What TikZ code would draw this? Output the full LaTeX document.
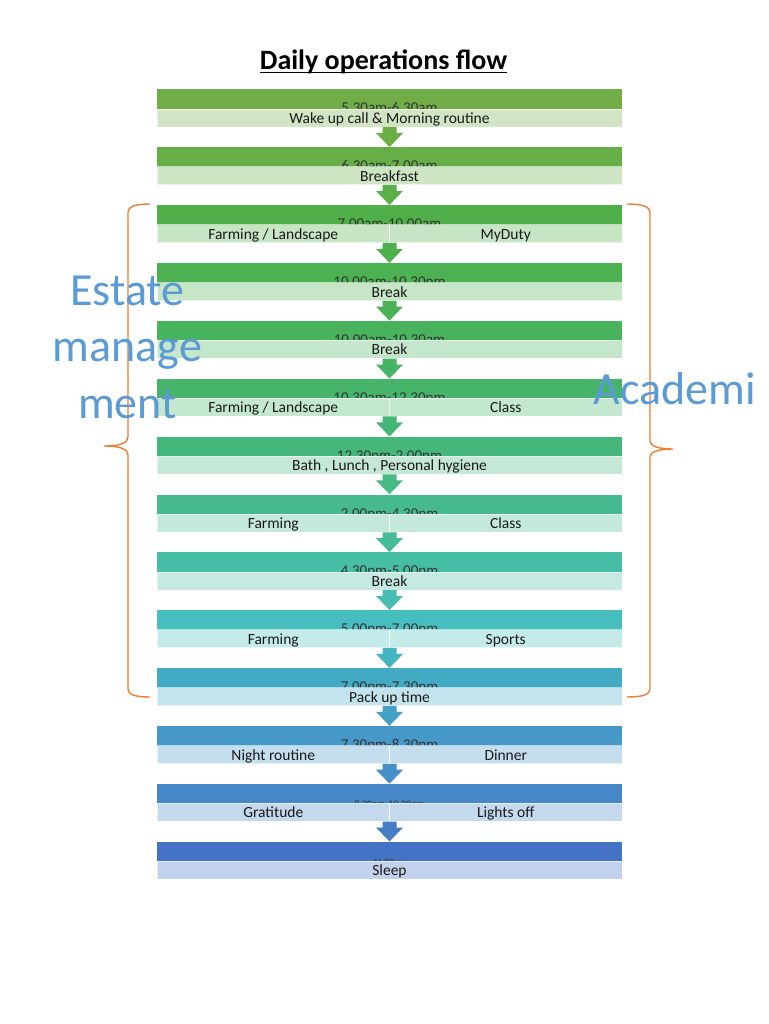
\documentclass[tikz,border=0pt]{standalone}
\usepackage{fontspec}
\setmainfont{Carlito}
\usetikzlibrary{calc}
\definecolor{c1}{RGB}{112,173,71}
\definecolor{c2}{RGB}{102,175,70}
\definecolor{c3}{RGB}{80,175,72}
\definecolor{c4}{RGB}{76,177,80}
\definecolor{c5}{RGB}{72,178,92}
\definecolor{c6}{RGB}{71,180,108}
\definecolor{c7}{RGB}{70,183,123}
\definecolor{c8}{RGB}{70,186,142}
\definecolor{c9}{RGB}{70,189,165}
\definecolor{c10}{RGB}{70,190,190}
\definecolor{c11}{RGB}{66,170,195}
\definecolor{c12}{RGB}{70,152,200}
\definecolor{c13}{RGB}{70,135,200}
\definecolor{c14}{RGB}{68,114,196}
\definecolor{bracecol}{RGB}{237,125,49}
\definecolor{sidetxt}{RGB}{91,155,213}
\tikzset{
  darkbar/.style={minimum width=465pt, minimum height=19.5pt, inner sep=0pt, draw=none},
  lightbar/.style={minimum width=465pt, minimum height=18pt, inner sep=0pt, draw=white, draw opacity=0.6, line width=0.5pt},
  halfbar/.style={minimum width=232.5pt, minimum height=18pt, inner sep=0pt, draw=white, draw opacity=0.6, line width=0.5pt},
  timetxt/.style={anchor=base, inner sep=0pt, text=black!80, font=\fontsize{15}{18}\selectfont},
  lbltxt/.style={anchor=base, inner sep=0pt, text=black!90, font=\fontsize{15.5}{18}\selectfont},
  bracepath/.style={draw=bracecol, line width=1.4pt},
  sidelabel/.style={text=sidetxt, font=\fontsize{46}{56}\selectfont, anchor=base, inner sep=0pt},
  titletxt/.style={anchor=base, inner sep=0pt, font=\bfseries\fontsize{28}{32}\selectfont},
}
\newcommand\darkrow[4]{%
  \node[darkbar, fill=#3] (d#1) at (389.5,#2+9.75) {};
  \node[timetxt] (t#1) at (389.5,#2+23.5) {#4};
}
\newcommand\onelight[4]{%
  \node[lightbar, fill=#3!32!white] (l#1) at (389.5,#2+28.5) {};
  \node[lbltxt] (x#1) at (389.5,#2+34) {#4};
  \coordinate (s#1) at (l#1.south);
}
\newcommand\twolight[5]{%
  \node[halfbar, fill=#3!32!white] (la#1) at (273.25,#2+28.5) {};
  \node[halfbar, fill=#3!32!white] (lb#1) at (505.75,#2+28.5) {};
  \node[lbltxt] (xa#1) at (273.25,#2+34) {#4};
  \node[lbltxt] (xb#1) at (505.75,#2+34) {#5};
  \coordinate (s#1) at (la#1.south east);
}
\newcommand\flowarr[3]{%
  \fill[#3] ($(s#1)+(-7,0)$) -- ($(d#2.north)+(-7,-14)$) -- ($(d#2.north)+(-13.5,-14)$)
    -- (d#2.north) -- ($(d#2.north)+(13.5,-14)$) -- ($(d#2.north)+(7,-14)$)
    -- ($(s#1)+(7,0)$) -- cycle;
}
\begin{document}
\begin{tikzpicture}[x=1pt, y=-1pt]
\fill[white] (0,0) rectangle (768,1024);
\useasboundingbox (0,0) rectangle (768,1024);

\node[titletxt] (title) at (383.5,69.3) {Daily operations flow};
\draw[line width=1.5pt] ($(title.base west)+(0,3)$) -- ($(title.base east)+(0,3)$);

\darkrow{1}{89.3}{c1}{5.30am-6.30am}
\onelight{1}{89.3}{c1}{Wake up call \& Morning routine}
\darkrow{2}{147.2}{c2}{6.30am-7.00am}
\onelight{2}{147.2}{c2}{Breakfast}
\darkrow{3}{205.1}{c3}{7.00am-10.00am}
\twolight{3}{205.1}{c3}{Farming / Landscape}{MyDuty}
\darkrow{4}{263}{c4}{10.00am-10.30pm}
\onelight{4}{263}{c4}{Break}
\darkrow{5}{320.8}{c5}{10.00am-10.30am}
\onelight{5}{320.8}{c5}{Break}
\darkrow{6}{378.7}{c6}{10.30am-12.30pm}
\twolight{6}{378.7}{c6}{Farming / Landscape}{Class}
\darkrow{7}{436.6}{c7}{12.30pm-2.00pm}
\onelight{7}{436.6}{c7}{Bath , Lunch , Personal hygiene}
\darkrow{8}{494.5}{c8}{2.00pm-4.30pm}
\twolight{8}{494.5}{c8}{Farming}{Class}
\darkrow{9}{552.3}{c9}{4.30pm-5.00pm}
\onelight{9}{552.3}{c9}{Break}
\darkrow{10}{610.2}{c10}{5.00pm-7.00pm}
\twolight{10}{610.2}{c10}{Farming}{Sports}
\darkrow{11}{668.1}{c11}{7.00pm-7.30pm}
\onelight{11}{668.1}{c11}{Pack up time}
\darkrow{12}{726}{c12}{7.30pm-8.30pm}
\twolight{12}{726}{c12}{Night routine}{Dinner}
\darkrow{13}{783.9}{c13}{\fontsize{10}{12}\selectfont 8.30pm-10.00pm}
\twolight{13}{783.9}{c13}{Gratitude}{Lights off}
\darkrow{14}{841.7}{c14}{\fontsize{9}{11}\selectfont 11.00pm}
\onelight{14}{841.7}{c14}{Sleep}

\flowarr{1}{2}{c1!50!c2}
\flowarr{2}{3}{c2!50!c3}
\flowarr{3}{4}{c3!50!c4}
\flowarr{4}{5}{c4!50!c5}
\flowarr{5}{6}{c5!50!c6}
\flowarr{6}{7}{c6!50!c7}
\flowarr{7}{8}{c7!50!c8}
\flowarr{8}{9}{c8!50!c9}
\flowarr{9}{10}{c9!50!c10}
\flowarr{10}{11}{c10!50!c11}
\flowarr{11}{12}{c11!50!c12}
\flowarr{12}{13}{c12!50!c13}
\flowarr{13}{14}{c13!50!c14}

% braces
\draw[bracepath] (150,204) .. controls (136,204) and (128,206) .. (128,213)
  -- (128,437) .. controls (128,443) and (120,446) .. (104,446)
  .. controls (120,446) and (128,449) .. (128,455)
  -- (128,689) .. controls (128,695) and (136,697) .. (150,697);
\draw[bracepath] (627,204) .. controls (641,204) and (650,206) .. (650,213)
  -- (650,441) .. controls (650,446) and (658,449) .. (673,449)
  .. controls (658,449) and (650,452) .. (650,457)
  -- (650,689) .. controls (650,695) and (641,697) .. (627,697);

\node[sidelabel] (est1) at (127.5,305) {Estate};
\node[sidelabel] (est2) at (127.5,361.5) {manage};
\node[sidelabel] (est3) at (127.5,418) {ment};
\node[sidelabel] (acad) at (674.5,404) {Academi};
\end{tikzpicture}
\end{document}
